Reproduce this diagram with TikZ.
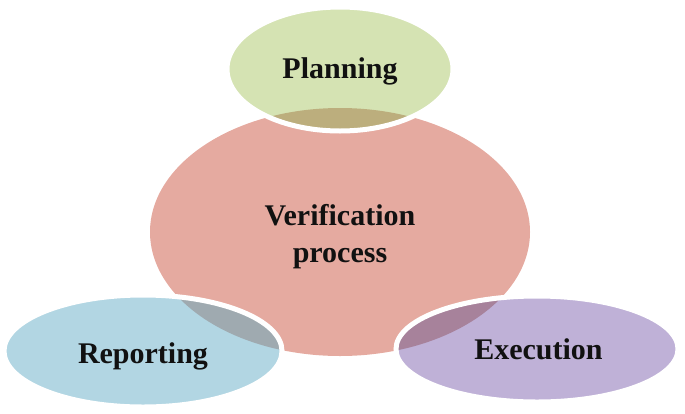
\documentclass[tikz,border=0pt]{standalone}
\usepackage{fontspec}
\setmainfont{Liberation Serif}
\definecolor{pinkc}{RGB}{229,170,160}
\definecolor{greenc}{RGB}{213,227,179}
\definecolor{greenov}{RGB}{188,174,125}
\definecolor{bluec}{RGB}{178,214,227}
\definecolor{blueov}{RGB}{159,170,176}
\definecolor{purplec}{RGB}{191,177,215}
\definecolor{purpleov}{RGB}{167,130,155}
\definecolor{txt}{RGB}{17,17,17}
\begin{document}
\begin{tikzpicture}[x=1pt,y=-1pt,
  lbl/.style={font=\bfseries\fontsize{30}{37}\selectfont, text=txt, inner sep=0pt, align=center},
  rim/.style={draw=white, line width=5pt}]
\useasboundingbox (0,0) rectangle (685,413);
% central ellipse
\fill[pinkc] (340,232) ellipse [x radius=190pt, y radius=124pt];
% Planning
\fill[greenc] (340,69) ellipse [x radius=113pt, y radius=62pt];
\begin{scope}
  \clip (340,232) ellipse [x radius=190pt, y radius=124pt];
  \fill[greenov] (340,69) ellipse [x radius=113pt, y radius=62pt];
\end{scope}
\draw[rim] (340,69) ellipse [x radius=113pt, y radius=62pt];
% Reporting
\fill[bluec] (143,351) ellipse [x radius=139pt, y radius=56pt];
\begin{scope}
  \clip (340,232) ellipse [x radius=190pt, y radius=124pt];
  \fill[blueov] (143,351) ellipse [x radius=139pt, y radius=56pt];
\end{scope}
\draw[rim] (143,351) ellipse [x radius=139pt, y radius=56pt];
% Execution
\fill[purplec] (537,349) ellipse [x radius=141pt, y radius=53pt];
\begin{scope}
  \clip (340,232) ellipse [x radius=190pt, y radius=124pt];
  \fill[purpleov] (537,349) ellipse [x radius=141pt, y radius=53pt];
\end{scope}
\draw[rim] (537,349) ellipse [x radius=141pt, y radius=53pt];
% labels
\node[lbl, anchor=center] (verif) at (340,237) {Verification\\process};
\node[lbl, anchor=base] (plan) at (340,78) {Planning};
\node[lbl, anchor=base] (rep) at (143,363) {Reporting};
\node[lbl, anchor=base] (exe) at (538.5,359) {Execution};
\end{tikzpicture}
\end{document}
